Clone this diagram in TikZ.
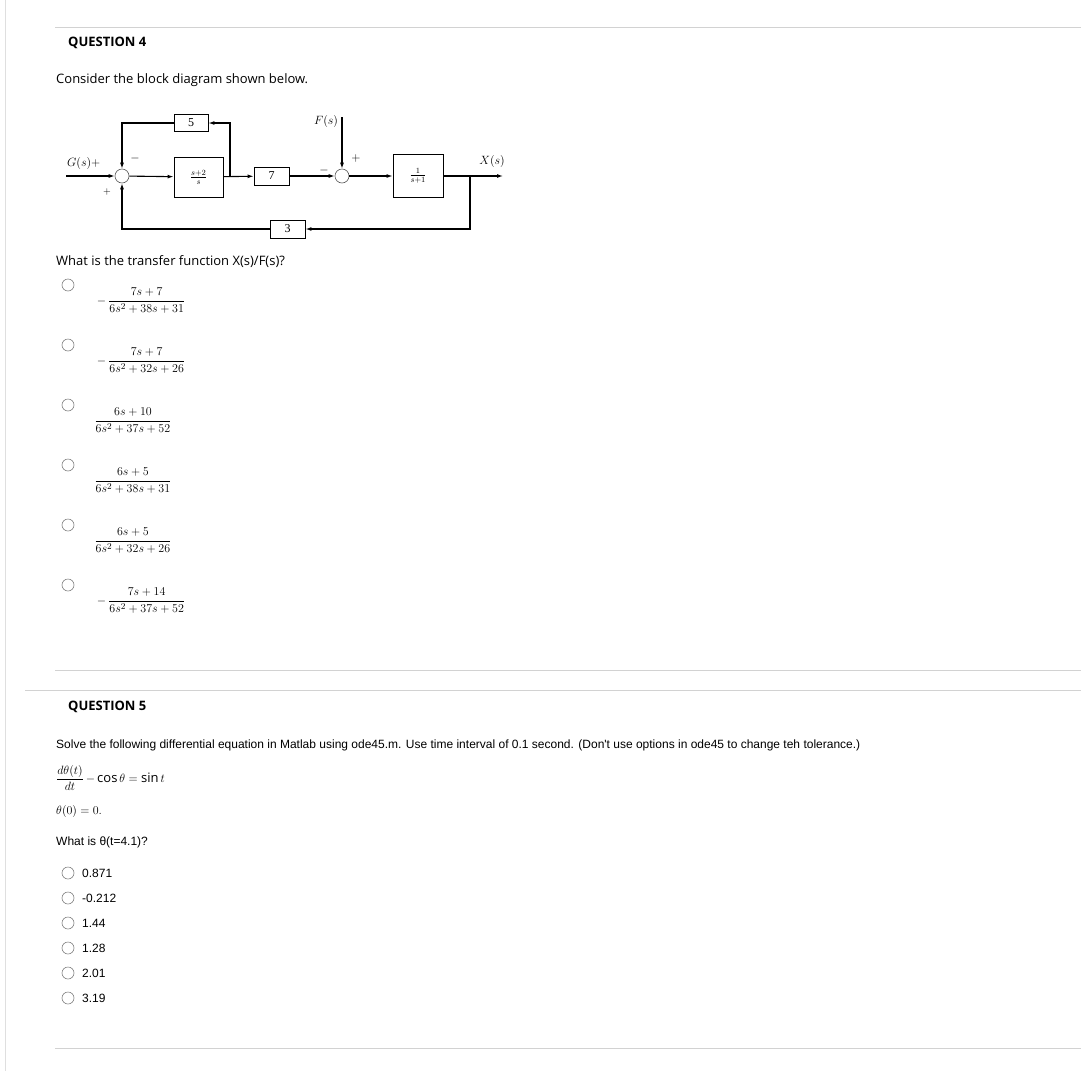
\documentclass[tikz,border=0pt]{standalone}
\usepackage{amsmath}
\usepackage{fontspec}
\setmainfont{Open Sans}
\newfontfamily\arial{Liberation Sans}
\newfontfamily\tms{Liberation Serif}
\usetikzlibrary{arrows.meta}
\tikzset{
 blk/.style={draw,line width=0.9pt,inner sep=0pt,font=\fontsize{12}{13}\selectfont\tms},
 sig/.style={line width=1.1pt,-{Latex[length=6pt,width=4pt]}},
 sumc/.style={draw,circle,gray!70!black,line width=0.6pt,minimum size=14pt,inner sep=0pt},
 lbl/.style={font=\fontsize{12}{13}\selectfont\tms,inner sep=0pt},
 txt/.style={anchor=west,inner sep=0pt,font=\fontsize{13}{15}\selectfont},
 atxt/.style={anchor=west,inner sep=0pt,font=\fontsize{12}{14}\selectfont\arial},
 radio/.style={draw,circle,gray,line width=0.6pt,minimum size=12pt,inner sep=0pt},
 rule/.style={draw=gray!35,line width=0.8pt},
 frac/.style={inner sep=0pt,font=\fontsize{13}{15}\selectfont\tms}
}
\begin{document}
\begin{tikzpicture}[x=1pt,y=-1pt]
\useasboundingbox (0,0) rectangle (1081,1071);
\draw[draw=gray!25] (5,0) -- (5,1071);
\draw[rule] (55,27) -- (1081,27);
\node[txt,font=\fontsize{13}{15}\selectfont\bfseries] (q4) at (68,43) {QUESTION 4};
\node[txt] (c1) at (56,80) {Consider the block diagram shown below.};
% diagram
\node[sumc] (s1) at (122,176) {};
\node[sumc] (s2) at (342,176) {};
\node[blk,minimum width=49pt,minimum height=40pt] (b1) at (198.5,177) {$\frac{s+2}{s}$};
\node[blk,minimum width=34pt,minimum height=17pt] (b5) at (191,123) {5};
\node[blk,minimum width=35pt,minimum height=18pt] (b7) at (271.5,176) {7};
\node[blk,minimum width=50pt,minimum height=43pt] (b2) at (418,176) {$\frac{1}{s+1}$};
\node[blk,minimum width=35pt,minimum height=18pt] (b3) at (287.5,229) {3};
\coordinate (gin) at (66,176);
\coordinate (xout) at (503,176);
\coordinate (fin) at (342,117);
\coordinate (br1) at (230,176);
\coordinate (br2) at (470,176);
\draw[sig] (gin) -- (s1);
\draw[sig] (s1) -- (b1);
\draw[sig] (b1) -- (b7);
\draw[sig] (br1) |- (b5);
\draw[sig] (b5) -| (s1);
\draw[sig] (b7) -- (s2);
\draw[sig] (fin) -- (s2);
\draw[sig] (s2) -- (b2);
\draw[sig] (b2) -- (xout);
\draw[sig] (br2) |- (b3);
\draw[sig] (b3) -| (s1);
\node[lbl,anchor=west] (gl) at (67,163) {$G(s)+$};
\node[lbl] (m1) at (135,158) {$-$};
\node[lbl] (p1) at (107,192) {\fontsize{10}{11}\selectfont$+$};
\node[lbl] (fl) at (326,121) {$F(s)$};
\node[lbl] (m2) at (324,170) {$-$};
\node[lbl] (p2) at (356,158) {$+$};
\node[lbl] (xl) at (492,161) {$X(s)$};
% question
\node[txt] (w) at (56,262) {What is the transfer function X(s)/F(s)?};
\foreach \y/\ng/\num/\den/\i in {285/1/7s+7/6s^2+38s+31/a,345/1/7s+7/6s^2+32s+26/b,405/0/6s+10/6s^2+37s+52/c,465/0/6s+5/6s^2+38s+31/d,525/0/6s+5/6s^2+32s+26/e,585/1/7s+14/6s^2+37s+52/f}{
 \node[radio] (r\i) at (68,\y) {};
 \ifnum\ng=1
  \node[frac] (f\i) at (141,\y+16) {$-\,\dfrac{\vphantom{\big|}\num}{\vphantom{\big|}\den}$};
 \else
  \node[frac] (f\i) at (133,\y+16) {$\dfrac{\vphantom{\big|}\num}{\vphantom{\big|}\den}$};
 \fi
}
\draw[rule] (55,670) -- (1081,670);
\draw[rule] (25,690) -- (1081,690);
\node[txt,font=\fontsize{13}{15}\selectfont\bfseries] (q5) at (68,707) {QUESTION 5};
\node[atxt] (s5) at (56,745) {Solve the following differential equation in Matlab using ode45.m. Use time interval of 0.1 second. (Don't use options in ode45 to change teh tolerance.)};
\node[frac,anchor=west] (eq) at (56,778) {$\dfrac{d\theta(t)}{dt}\,{-}\cos\theta=\sin t$};
\node[frac,anchor=west] (ic) at (56,811) {$\theta(0)=0.$};
\node[atxt] (wq) at (56,842) {What is θ(t=4.1)?};
\foreach \y/\v/\i in {873/0.871/a,898/-0.212/b,923/1.44/c,948/1.28/d,973/2.01/e,998/3.19/f}{
 \node[radio] (o\i) at (68,\y) {};
 \node[atxt] (l\i) at (82,\y) {\v};
}
\draw[rule] (55,1048) -- (1081,1048);
\end{tikzpicture}
\end{document}
